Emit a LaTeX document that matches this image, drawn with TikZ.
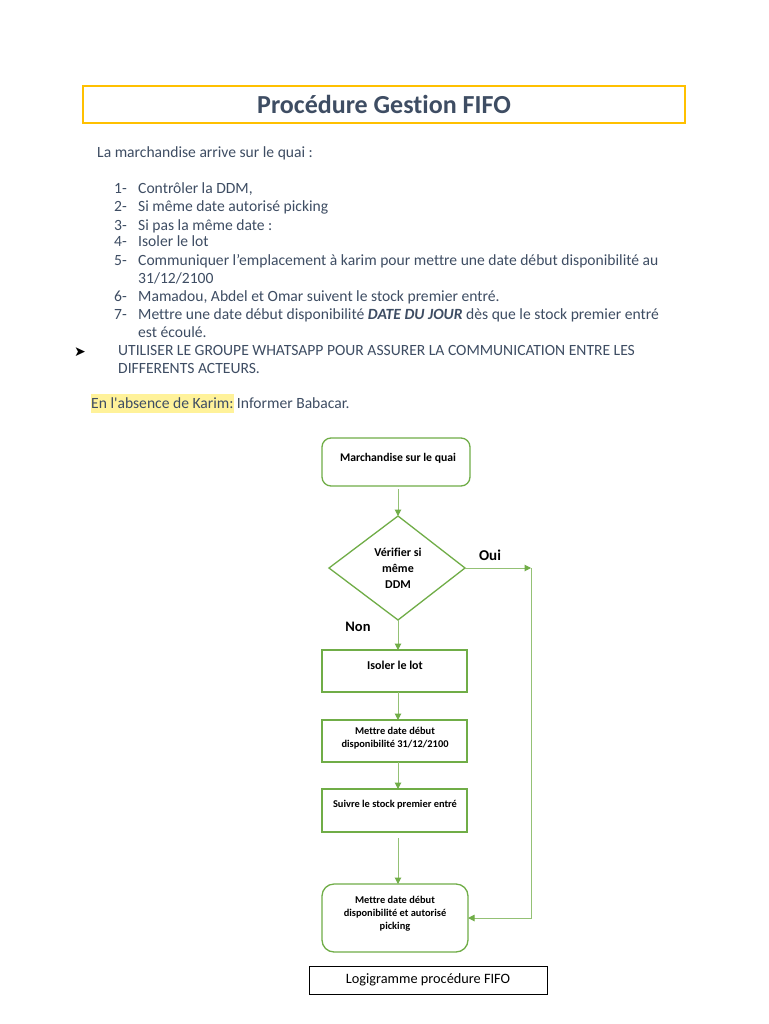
\documentclass[tikz,border=0pt]{standalone}
\usepackage{fontspec}
\setmainfont{Carlito}[RawFeature=-liga]
\newfontfamily\djv{DejaVu Sans}
\usetikzlibrary{arrows.meta,shapes.geometric}
\definecolor{txt}{HTML}{3E4D63}
\definecolor{gold}{HTML}{FFC000}
\definecolor{grn}{HTML}{70AD47}
\definecolor{hl}{HTML}{FFF29A}
\begin{document}
\begin{tikzpicture}[x=1pt,y=-1pt,
  body/.style={anchor=base west,inner sep=0pt,text=txt,font=\fontsize{15.6}{17}\selectfont},
  fbox/.style={draw=grn,line width=1.3pt},
  ftxt/.style={inner sep=0pt,align=center,text=black},
  arr/.style={draw=grn!75,line width=1pt,-{Triangle[length=6.5pt,width=6.5pt,fill=grn,color=grn]}},
  ln/.style={draw=grn!75,line width=1pt}]
\useasboundingbox (0,0) rectangle (768,1024);
\fill[white] (0,0) rectangle (768,1024);
% title
\draw[gold,line width=1.4pt] (83,86) rectangle (685,123);
\node[inner sep=0pt,text=txt,font=\fontsize{26}{30}\selectfont\bfseries] (title) at (384,104) {Procédure Gestion FIFO};
% body text
\node[body] (intro) at (97,158) {La marchandise arrive sur le quai :};
\foreach \n/\y/\t in {1/194/{Contrôler la DDM,},
                      2/212/{Si même date autorisé picking},
                      3/230/{Si pas la même date :},
                      4/247/{Isoler le lot},
                      5/265/{Communiquer l’emplacement à karim pour mettre une date début disponibilité au},
                      6/301/{Mamadou, Abdel et Omar suivent le stock premier entré.},
                      7/319/{Mettre une date début disponibilité \textbf{\textit{DATE DU JOUR}} dès que le stock premier entré}}{
  \node[body] (num\n) at (114,\y) {\n-};
  \node[body] (item\n) at (138,\y) {\t};
}
\node[body] (item5b) at (138,283) {31/12/2100};
\node[body] (item7b) at (138,337) {est écoulé.};
\node[anchor=base west,inner sep=0pt,font=\djv\fontsize{14}{14}\selectfont] (bul) at (74,356) {➤};
\node[body] (ws1) at (118,355) {UTILISER LE GROUPE WHATSAPP POUR ASSURER LA COMMUNICATION ENTRE LES};
\node[body] (ws2) at (118,373) {DIFFERENTS ACTEURS.};
\fill[hl] (91,394) rectangle (234,413);
\node[body] (abs1) at (91,408) {En l\textquotesingle absence de Karim:};
\node[body,anchor=base west] (abs2) at ([xshift=3pt]abs1.base east) {Informer Babacar.};
% flowchart
\draw[fbox,rounded corners=9pt] (322,438) rectangle (470,486);
\coordinate (startS) at (398,489);
\node[ftxt,font=\fontsize{11.7}{13}\selectfont\bfseries] (start) at (398,458) {Marchandise sur le quai};
\coordinate (dT) at (398,516);
\coordinate (dL) at (329,568);
\coordinate (dR) at (465,568);
\coordinate (dB) at (398,620);
\draw[fbox,line join=miter] (dT) -- (dR) -- (dB) -- (dL) -- cycle;
\node[ftxt,font=\fontsize{12}{16}\selectfont\bfseries] (dec) at (398,568) {Vérifier si\\même\\DDM};
\node[inner sep=0pt,font=\fontsize{15}{17}\selectfont\bfseries] (oui) at (490,555) {Oui};
\node[inner sep=0pt,font=\fontsize{14.5}{17}\selectfont\bfseries] (non) at (358,627) {Non};
\draw[fbox] (322,650) rectangle (467,692);
\node[ftxt,font=\fontsize{12}{14}\selectfont\bfseries] (iso) at (395,665) {Isoler le lot};
\draw[fbox] (322,720) rectangle (467,762);
\node[ftxt,font=\fontsize{10.4}{13}\selectfont\bfseries] (date) at (395,738) {Mettre date début\\disponibilité 31/12/2100};
\draw[fbox] (322,789) rectangle (467,832);
\node[ftxt,font=\fontsize{10.4}{13}\selectfont\bfseries] (suiv) at (395,805) {Suivre le stock premier entré};
\draw[fbox,rounded corners=12pt] (322,884) rectangle (468,952);
\node[ftxt,font=\fontsize{10.4}{13.2}\selectfont\bfseries] (fin) at (395,914) {Mettre date début\\disponibilité et autorisé\\picking};
% connectors
\draw[arr] (startS) -- (dT);
\draw[arr] (dB) -- (398,650);
\draw[arr] (398,692) -- (398,720);
\draw[arr] (398,762) -- (398,789);
\draw[arr] (398,838) -- (398,884);
\coordinate (c1) at (531,568);
\coordinate (c2) at (531,918);
\coordinate (finE) at (468,918);
\draw[arr] (dR) -- (c1);
\draw[arr] (c1) -- (c2) -- (finE);
% caption
\draw[black,line width=0.9pt] (309,966) rectangle (547,994);
\node[inner sep=0pt,font=\fontsize{14.3}{16}\selectfont] (cap) at (428,980) {Logigramme procédure FIFO};
\end{tikzpicture}
\end{document}
